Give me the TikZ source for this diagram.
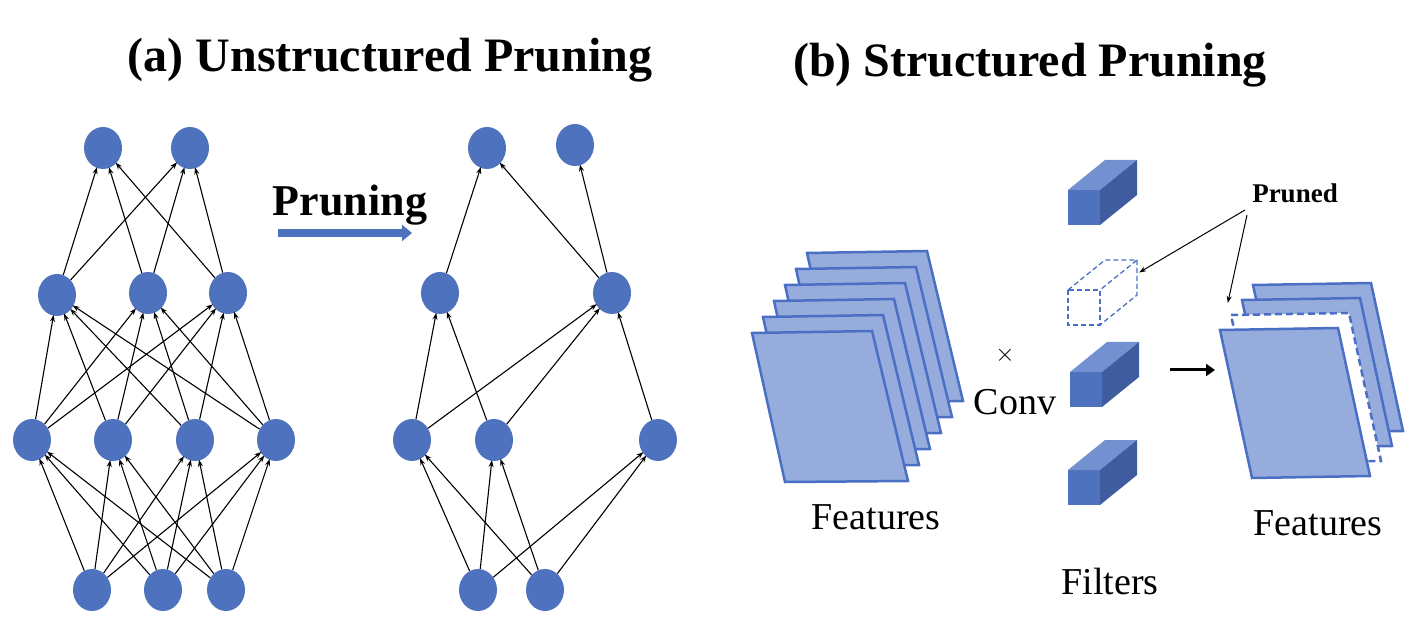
\documentclass[tikz,border=0pt]{standalone}
\usepackage{fontspec}
\setmainfont{Liberation Serif}
\usetikzlibrary{shapes.geometric,arrows.meta}
\definecolor{nb}{HTML}{4F72BE}
\definecolor{sheet}{HTML}{95ACDC}
\definecolor{edgeb}{HTML}{4A6FC4}
\definecolor{ctop}{HTML}{7390D0}
\definecolor{cside}{HTML}{3F5C9E}
\begin{document}
\begin{tikzpicture}[x=1pt,y=-1pt,
  nn/.style={ellipse,fill=nb,minimum width=38pt,minimum height=42pt,inner sep=0pt},
  ed/.style={-{Stealth[length=7pt,width=5pt]},line width=1.1pt,shorten >=-1pt},
  sh/.style={fill=sheet,draw=edgeb,line width=2.5pt,line join=miter},
  lab/.style={font=\fontsize{38}{40}\selectfont}]
\useasboundingbox (0,0) rectangle (1417,628);
\node at (390,60) {\fontsize{48}{50}\selectfont\bfseries (a) Unstructured Pruning};
\node at (1030,65) {\fontsize{48}{50}\selectfont\bfseries (b) Structured Pruning};
% left network
\node[nn] (a1) at (103,148) {}; \node[nn] (a2) at (190,148) {};
\node[nn] (b1) at (57,295) {}; \node[nn] (b2) at (148,293) {}; \node[nn] (b3) at (228,293) {};
\node[nn] (c1) at (32,440) {}; \node[nn] (c2) at (113,440) {}; \node[nn] (c3) at (195,440) {}; \node[nn] (c4) at (276,440) {};
\node[nn] (d1) at (92,590) {}; \node[nn] (d2) at (163,590) {}; \node[nn] (d3) at (226,590) {};
\foreach \u in {a1,a2}{\foreach \l in {b1,b2,b3}{\draw[ed] (\l) -- (\u);}}
\foreach \u in {b1,b2,b3}{\foreach \l in {c1,c2,c3,c4}{\draw[ed] (\l) -- (\u);}}
\foreach \u in {c1,c2,c3,c4}{\foreach \l in {d1,d2,d3}{\draw[ed] (\l) -- (\u);}}
% pruning arrow
\node (pl) at (350,205) {\fontsize{44}{46}\selectfont\bfseries Pruning};
\coordinate (pa) at (278,233); \coordinate (pb) at (412,233);
\draw[line width=8pt,draw=nb,-{Triangle[length=10pt,width=16pt]}] (pa) -- (pb);
% right network
\node[nn] (e1) at (487,148) {}; \node[nn] (e2) at (575,145) {};
\node[nn] (f1) at (440,293) {}; \node[nn] (f2) at (612,293) {};
\node[nn] (g1) at (412,440) {}; \node[nn] (g2) at (494,440) {}; \node[nn] (g3) at (658,440) {};
\node[nn] (h1) at (478,590) {}; \node[nn] (h2) at (545,590) {};
\draw[ed] (f1) -- (e1); \draw[ed] (f2) -- (e1); \draw[ed] (f2) -- (e2);
\draw[ed] (g1) -- (f1); \draw[ed] (g2) -- (f1);
\draw[ed] (g1) -- (f2); \draw[ed] (g2) -- (f2); \draw[ed] (g3) -- (f2);
\foreach \u in {g1,g2,g3}{\foreach \l in {h1,h2}{\draw[ed] (\l) -- (\u);}}
% left feature stack
\foreach \i in {5,4,...,0}{
  \draw[sh] ({752+11*\i},{333-16*\i}) -- ++(120,-2) -- ++(36,150) -- ++(-123,1) -- cycle;}
\node[lab] (f1l) at (876,517) {Features};
% cubes
\foreach \cx/\cy/\nm in {1068/190/k1,1070/372/k3,1068/470/k4}{
  \fill[nb] (\cx,\cy) rectangle ++(32,35);
  \fill[ctop] (\cx,\cy) -- ++(37,-30) -- ++(32,0) -- ++(-37,30) -- cycle;
  \fill[cside] ({\cx+32},\cy) -- ++(37,-30) -- ++(0,35) -- ++(-37,30) -- cycle;
  \coordinate (\nm) at (\cx,\cy);}
\begin{scope}[draw=edgeb,dashed,line width=1.3pt,dash pattern=on 5pt off 3pt]
  \draw (1068,290) rectangle ++(32,35);
  \draw (1068,290) -- ++(37,-30) -- ++(32,0) -- ++(-37,30);
  \draw (1137,260) -- ++(0,35) -- ++(-37,30);
\end{scope}
\coordinate (dcube) at (1140,272);
\node at (1005,355) {\fontsize{36}{38}\selectfont$\times$};
\node[lab] (conv) at (1015,402) {Conv};
\node[lab] (filt) at (1110,582) {Filters};
% black arrow
\coordinate (ba) at (1170,370); \coordinate (bb) at (1215,370);
\draw[line width=3pt,-{Triangle[length=9pt,width=12pt]}] (ba) -- (bb);
% right feature stack
\foreach \i in {3,2}{
  \draw[sh] ({1220+11*\i},{330-15*\i}) -- ++(118,-2) -- ++(32,148) -- ++(-118,2) -- cycle;}
\draw[fill=white,draw=edgeb,line width=2.5pt,dashed,dash pattern=on 7pt off 4pt] (1231,315) -- ++(118,-2) -- ++(32,148) -- ++(-118,2) -- cycle;
\coordinate (dsheet) at (1228,302);
\draw[sh] (1220,330) -- ++(118,-2) -- ++(32,148) -- ++(-118,2) -- cycle;
\node[lab] (f2l) at (1318,523) {Features};
\node (pr) at (1295,193) {\fontsize{27}{29}\selectfont\bfseries Pruned};
\draw[ed,line width=1pt] (1245,210) -- (dcube);
\draw[ed,line width=1pt] (1247,215) -- (dsheet);
\end{tikzpicture}
\end{document}
